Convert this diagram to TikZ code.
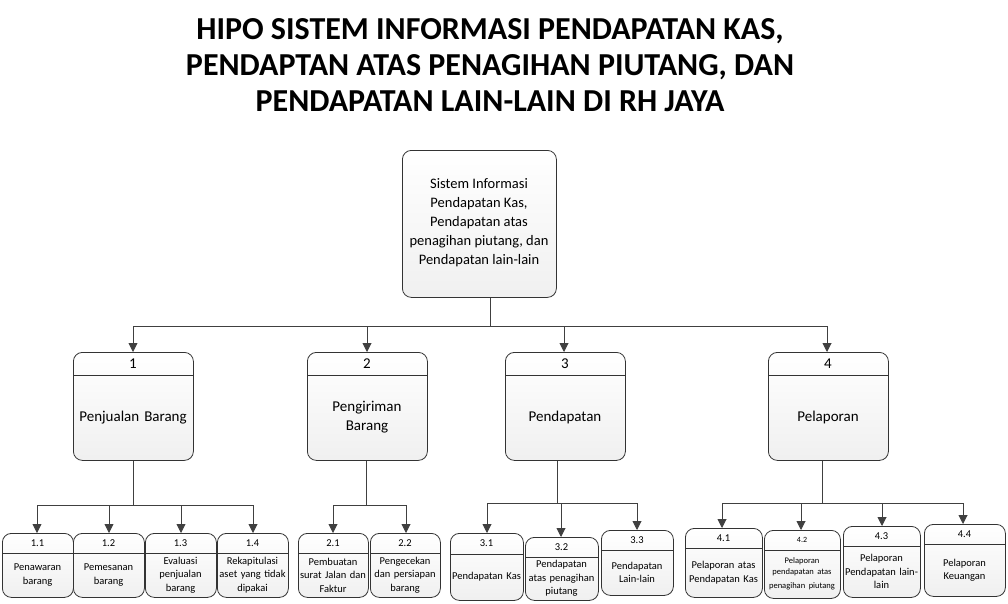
\documentclass[tikz,border=0pt]{standalone}
\usepackage{fontspec}
\setmainfont{Carlito}
\usetikzlibrary{arrows.meta}
\tikzset{
  boxshape/.style={draw=black!80,line width=0.8pt,rounded corners=9pt,top color=white,bottom color=black!6,inner sep=0pt,anchor=north west},
  lbl/.style={inner sep=0pt,align=center,font=#1},
  arr/.style={draw=black!75,line width=0.9pt,-{Triangle[width=9pt,length=9pt]}},
  ln/.style={draw=black!75,line width=0.9pt},
}
% name x1 y1 x2 y2 div num text font
\newcommand{\hipobox}[9]{%
  \node[boxshape,minimum width={#4-#2},minimum height={#5-#3}] (#1) at (#2,#3) {};
  \draw[black!80,line width=0.8pt] (#2,#6) -- (#4,#6);
  \node[lbl=#9] (#1n) at ({(#2+#4)/2},{(#3+#6)/2}) {#7};
  \node[lbl=#9,text width={#4-#2-4}] (#1t) at ({(#2+#4)/2},{(#6+#5)/2}) {#8};
}
\begin{document}
\begin{tikzpicture}[x=1pt,y=-1pt]
\useasboundingbox (0,0) rectangle (1008,603);
\node[font=\bfseries\fontsize{32}{36}\selectfont,align=center,inner sep=0pt] (title) at (490,65)
 {HIPO SISTEM INFORMASI PENDAPATAN KAS,\\PENDAPTAN ATAS PENAGIHAN PIUTANG, DAN\\PENDAPATAN LAIN-LAIN DI RH JAYA};
\node[boxshape,minimum width=154,minimum height=147] (top) at (402,150) {};
\node[lbl=\fontsize{14.5}{19}\selectfont] (topt) at (479,223) {Sistem Informasi\\Pendapatan Kas,\\Pendapatan atas\\penagihan piutang, dan\\Pendapatan lain-lain};
\def\mf{\fontsize{15}{19}\selectfont}
\hipobox{m1}{73}{352}{193}{460}{375}{1}{Penjualan Barang}{\mf}
\hipobox{m2}{307}{352}{427}{460}{375}{2}{Pengiriman\\Barang}{\mf}
\hipobox{m3}{505}{352}{625}{460}{375}{3}{Pendapatan}{\mf}
\hipobox{m4}{768}{352}{888}{460}{375}{4}{Pelaporan}{\mf}
\def\sf{\fontsize{10.5}{13.5}\selectfont}
\hipobox{b11}{2}{533}{73}{597}{553}{1.1}{Penawaran\\barang}{\sf}
\hipobox{b12}{73}{533}{144}{597}{553}{1.2}{Pemesanan\\barang}{\sf}
\hipobox{b13}{145}{533}{216}{597}{553}{1.3}{Evaluasi\\penjualan\\barang}{\sf}
\hipobox{b14}{217}{533}{288}{597}{553}{1.4}{Rekapitulasi\\aset yang tidak\\dipakai}{\sf}
\hipobox{b21}{298}{533}{368}{597}{553}{2.1}{Pembuatan\\surat Jalan dan\\Faktur}{\sf}
\hipobox{b22}{370}{533}{440}{597}{553}{2.2}{Pengecekan\\dan persiapan\\barang}{\sf}
\hipobox{b31}{450}{533}{523}{600}{554}{3.1}{Pendapatan Kas}{\sf}
\hipobox{b32}{525}{537}{598}{600}{557}{3.2}{Pendapatan\\atas penagihan\\piutang}{\sf}
\hipobox{b33}{601}{530}{673}{595}{550}{3.3}{Pendapatan\\Lain-lain}{\sf}
\hipobox{b41}{685}{528}{762}{597}{548}{4.1}{Pelaporan atas\\Pendapatan Kas}{\sf}
\hipobox{b42}{764}{530}{840}{598}{550}{\fontsize{8}{10}\selectfont 4.2}{\fontsize{8.5}{11}\selectfont Pelaporan\\pendapatan atas\\penagihan piutang}{\sf}
\hipobox{b43}{843}{526}{920}{597}{546}{4.3}{Pelaporan\\Pendapatan lain-\\lain}{\sf}
\hipobox{b44}{924}{524}{1005}{596}{544}{4.4}{Pelaporan\\Keuangan}{\sf}
% top level
\coordinate (bus0) at (490,326);
\draw[ln] (top.south -| bus0) -- (bus0);
\draw[ln] (133,326) -- (827,326);
\foreach \n/\x in {m1/133,m2/367,m3/564,m4/827}
  \draw[arr] (\x,326) -- (\n.north -| \x,0);
% group 1
\coordinate (g1) at (133,505);
\draw[ln] (m1.south -| g1) -- (g1);
\draw[ln] (37,505) -- (253,505);
\foreach \n/\x in {b11/37,b12/109,b13/181,b14/253} \draw[arr] (\x,505) -- (\n.north -| \x,0);
% group 2
\coordinate (g2) at (366,505);
\draw[ln] (m2.south -| g2) -- (g2);
\draw[ln] (333,505) -- (406,505);
\foreach \n/\x in {b21/333,b22/406} \draw[arr] (\x,505) -- (\n.north -| \x,0);
% group 3
\coordinate (g3) at (557,503);
\draw[ln] (m3.south -| g3) -- (g3);
\draw[ln] (487,503) -- (637,503);
\foreach \n/\x in {b31/487,b32/561,b33/637} \draw[arr] (\x,503) -- (\n.north -| \x,0);
% group 4
\coordinate (g4) at (822,503);
\draw[ln] (m4.south -| g4) -- (g4);
\draw[ln] (722,503) -- (963,503);
\foreach \n/\x in {b41/722,b42/801,b43/882,b44/963} \draw[arr] (\x,503) -- (\n.north -| \x,0);
\end{tikzpicture}
\end{document}
